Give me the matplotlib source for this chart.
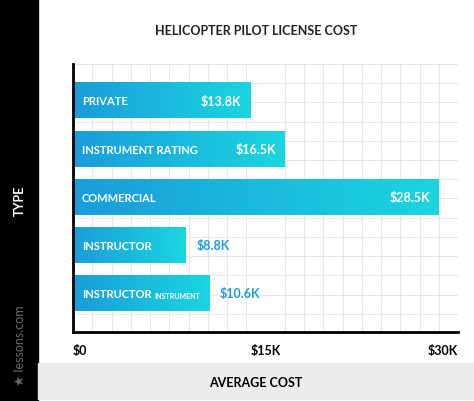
import numpy as np
import matplotlib
matplotlib.use('Agg')
import matplotlib.pyplot as plt
from matplotlib.colors import LinearSegmentedColormap
from matplotlib.patches import Rectangle

plt.rcParams['font.family'] = ['Lato', 'DejaVu Sans']

# Data
types = ['PRIVATE', 'INSTRUMENT RATING', 'COMMERCIAL', 'INSTRUCTOR', 'INSTRUCTOR']
suffix = ['', '', '', '', 'INSTRUMENT']
costs = [13.8, 16.5, 28.5, 8.8, 10.6]
value_labels = ['$13.8K', '$16.5K', '$28.5K', '$8.8K', '$10.6K']
inside = [True, True, True, False, False]
xticks = [0, 15, 30]
xticklabels = ['$0', '$15K', '$30K']

W, H = 474, 402
fig = plt.figure(figsize=(W / 100, H / 100), dpi=100)
fig.patch.set_facecolor('white')

# left black strip and bottom gray band
fig.add_artist(Rectangle((0, 0), 38 / W, 1, transform=fig.transFigure, color='black', zorder=0))
fig.add_artist(Rectangle((38 / W, 2 / H), 1 - 38 / W, 36 / H, transform=fig.transFigure,
                         color='#ebebeb', zorder=0))
fig.text(20 / W, 0.5, 'TYPE', rotation=90, color='white', fontsize=9, fontweight='bold',
         ha='center', va='center')
fig.text(20 / W, 0.14, '★ lessons.com', rotation=90, color='#6b6b6b', fontsize=9,
         ha='center', va='center')
fig.text(256 / W, 1 - 383 / H, 'AVERAGE COST', fontsize=9, fontweight='bold',
         ha='center', va='center')
fig.text(256 / W, 1 - 31 / H, 'HELICOPTER PILOT LICENSE COST', fontsize=9, fontweight='bold',
         ha='center', va='center', color='#222222')

ax = fig.add_axes([73 / W, 69 / H, 385 / W, 268 / H])
ax.set_xlim(0, 30)
ax.set_ylim(4.81, -0.77)
ax.set_xticks(np.arange(0, 30.1, 1.5), minor=True)
ax.set_yticks(np.arange(-0.77, 4.81, 0.4), minor=True)
ax.grid(which='minor', color='#e6e6e6', linewidth=0.8)
ax.set_axisbelow(True)
ax.tick_params(which='both', length=0)
ax.set_yticks([])
ax.set_xticks(xticks)
ax.set_xticklabels(xticklabels, fontsize=9, fontweight='bold')
ax.tick_params(axis='x', pad=9)
for s in ['top', 'right']:
    ax.spines[s].set_visible(False)
for s in ['left', 'bottom']:
    ax.spines[s].set_linewidth(2)
lbls = ax.get_xticklabels()
lbls[0].set_ha('left')
lbls[-1].set_ha('right')

cmap = LinearSegmentedColormap.from_list('g', ['#1a9cd9', '#1ad6e0'])
grad = np.linspace(0, 1, 256).reshape(1, -1)
bh = 35 / 48
for i, (t, sfx, c, vl, ins) in enumerate(zip(types, suffix, costs, value_labels, inside)):
    ax.imshow(grad, cmap=cmap, aspect='auto', extent=(0, c, i + bh / 2, i - bh / 2), zorder=2)
    tx = ax.text(0.7, i, t, color='white', fontsize=8, fontweight='bold', va='center', zorder=3)
    if sfx:
        fig.canvas.draw()
        bb = tx.get_window_extent().transformed(ax.transData.inverted())
        ax.text(bb.x1 + 0.2, i + 0.05, sfx, color='white', fontsize=5, fontweight='bold',
                va='center', zorder=3)
    if ins:
        ax.text(c - 0.7, i, vl, color='white', fontsize=9, fontweight='bold',
                ha='right', va='center', zorder=3)
    else:
        ax.text(c + 0.8, i, vl, color='#1a9cd9', fontsize=9, fontweight='bold',
                ha='left', va='center', zorder=3)

fig.savefig('out.png', dpi=100)
